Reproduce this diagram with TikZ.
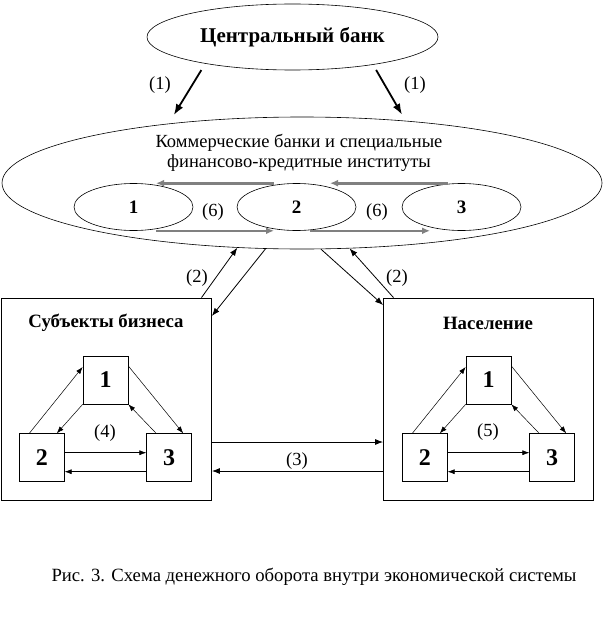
\documentclass[tikz,border=0pt]{standalone}
\usepackage{fontspec}
\setmainfont{Liberation Serif}
\usetikzlibrary{positioning,shapes.geometric,arrows.meta}
\tikzstyle{oval} = [ellipse, draw, line width=0.6pt, inner sep=0pt]
\tikzstyle{sector} = [rectangle, draw, line width=0.8pt, minimum width=210pt, minimum height=202pt]
\tikzstyle{unit} = [rectangle, draw, line width=0.7pt, minimum width=45pt, minimum height=48pt, inner sep=0pt, font=\bfseries\fontsize{24}{24}\selectfont]
\tikzstyle{lbl} = [font=\fontsize{18.5}{18.5}\selectfont]
\tikzstyle{title} = [font=\bfseries\fontsize{18.8}{18.8}\selectfont]
\tikzstyle{flow} = [-{Latex[length=8pt,width=6pt]}, line width=0.8pt]
\tikzstyle{thinflow} = [-{Latex[length=7pt,width=5pt]}, line width=0.5pt]
\tikzstyle{cbflow} = [-{Latex[length=11pt,width=8pt]}, line width=1.8pt]
\tikzstyle{grayflow} = [-{Latex[length=8pt,width=7pt]}, line width=2.6pt, draw=gray, fill=gray]

\begin{document}
\begin{tikzpicture}[x=1pt, y=-1pt, node distance = 29pt and 18pt, >=latex]
        \useasboundingbox (0,0) rectangle (603,626);

        \node [oval, minimum width=291pt, minimum height=66pt, font=\bfseries\fontsize{21}{21}\selectfont] (cb) at (292.5,37) {Центральный банк};
        \node [oval, minimum width=600pt, minimum height=132pt] (kb) at (302,183) {};
        \node [lbl, align=center, font=\fontsize{18.5}{20}\selectfont] (kbtext) at (299,153) {Коммерческие банки и специальные\\финансово-кредитные институты};
        \node [lbl] (l1a) at (160,85) {(1)};
        \node [lbl] (l1b) at (415,85) {(1)};
        \draw [cbflow, shorten <=7.5pt, shorten >=10pt] (cb.197) -- (kb.156);
        \draw [cbflow, shorten <=6pt, shorten >=7pt] (cb.341) -- (kb.31);

        \node [oval, minimum width=119pt, minimum height=47pt, font=\bfseries\fontsize{19}{19}\selectfont] (e1) at (133.5,207) {1};
        \node [oval, minimum width=119pt, minimum height=47pt, font=\bfseries\fontsize{19}{19}\selectfont] (e2) at (296.5,207) {2};
        \node [oval, minimum width=119pt, minimum height=47pt, font=\bfseries\fontsize{19}{19}\selectfont] (e3) at (461.5,207) {3};
        \draw [grayflow] ([xshift=-22.5pt]e2.north) -- ([xshift=22.5pt]e1.north);
        \draw [grayflow] ([xshift=-13.5pt]e3.north) -- ([xshift=33.5pt]e2.north);
        \draw [grayflow] ([xshift=22.5pt]e1.south) -- ([xshift=-22.5pt]e2.south);
        \draw [grayflow] ([xshift=13.5pt]e2.south) -- ([xshift=-31.5pt]e3.south);
        \node [lbl] (l6a) at (213,212) {(6)};
        \node [lbl] (l6b) at (377,212) {(6)};

        \node [sector] (biz) at (106.5,399) {};
        \node [title] (biztitle) at (106,323) {Субъекты бизнеса};
        \node [unit] (bb1) at (105.5,380) {1};
        \node [unit, below left = of bb1] (bb2) {2};
        \node [unit, below right = of bb1] (bb3) {3};
        \draw [thinflow] ([xshift=-12.5pt]bb2.north) -- ([yshift=13pt]bb1.west);
        \draw [thinflow] (bb1.south west) -- ([xshift=15pt]bb2.north);
        \draw [thinflow] ([yshift=14pt]bb1.east) -- ([xshift=14pt]bb3.north);
        \draw [thinflow] ([xshift=-13pt]bb3.north) -- (bb1.south east);
        \draw [thinflow] ([yshift=5pt]bb2.east) -- ([yshift=5pt]bb3.west);
        \draw [thinflow] ([yshift=-14pt]bb3.west) -- ([yshift=-14pt]bb2.east);
        \node [lbl] (l4) at (105,433) {(4)};

        \node [sector] (nas) at (488.5,399) {};
        \node [title] (nastitle) at (488,323) {Население};
        \node [unit] (nb1) at (488.5,380) {1};
        \node [unit, below left = of nb1] (nb2) {2};
        \node [unit, below right = of nb1] (nb3) {3};
        \draw [thinflow] ([xshift=-12.5pt]nb2.north) -- ([yshift=13pt]nb1.west);
        \draw [thinflow] (nb1.south west) -- ([xshift=15pt]nb2.north);
        \draw [thinflow] ([yshift=14pt]nb1.east) -- ([xshift=14pt]nb3.north);
        \draw [thinflow] ([xshift=-13pt]nb3.north) -- (nb1.south east);
        \draw [thinflow] ([yshift=5pt]nb2.east) -- ([yshift=5pt]nb3.west);
        \draw [thinflow] ([yshift=-14pt]nb3.west) -- ([yshift=-14pt]nb2.east);
        \node [lbl] (l5) at (488,432) {(5)};

        \draw [flow] ([xshift=95pt]biz.north) -- (kb.225);
        \draw [flow] (kb.241) -- ([yshift=83pt]biz.east);
        \draw [flow] (kb.286) -- ([yshift=94pt]nas.west);
        \draw [flow] ([xshift=-95pt]nas.north) -- (kb.306);
        \node [lbl] (l2a) at (197,278) {(2)};
        \node [lbl] (l2b) at (397,278) {(2)};

        \draw [flow] ([yshift=-43pt]biz.east) -- ([yshift=-43pt]nas.west);
        \draw [flow] ([yshift=-72pt]nas.west) -- ([yshift=-72pt]biz.east);
        \node [lbl] (l3) at (297,461) {(3)};

        \node [font=\fontsize{18.7}{18.7}\selectfont] (caption) at (314,577) {Рис. 3. Схема денежного оборота внутри экономической системы};
\end{tikzpicture}
\end{document}
